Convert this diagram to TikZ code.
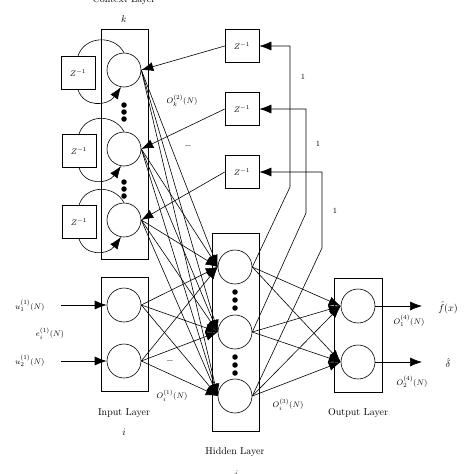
\documentclass[tikz,border=0pt]{standalone}
\usetikzlibrary{shapes.geometric, arrows.meta, positioning, calc}

\begin{document}
\begin{tikzpicture}[
    x=1pt, y=1pt,
    neuron/.style={circle, draw=black, semithick, minimum size=34pt, inner sep=0pt},
    layer/.style={rectangle, draw=black, semithick, inner sep=0pt},
    delay/.style={rectangle, draw=black, semithick, minimum width=34pt, minimum height=33pt, inner sep=0pt, font=\footnotesize},
    link/.style={-{Latex[length=12pt, width=9pt]}, semithick},
    wire/.style={-, semithick},
    lbl/.style={font=\footnotesize, inner sep=0pt},
    title/.style={inner sep=0pt},
    dot/.style={circle, fill=black, minimum size=5.5pt, inner sep=0pt}
]
\useasboundingbox (0,0) rectangle (474,-474);

% Layer Boxes
\node[layer, minimum width=47pt, minimum height=230pt] (ctx_box) at (124.5,-144) {};
\node[layer, minimum width=47pt, minimum height=114pt] (in_box) at (124.5,-334) {};
\node[layer, minimum width=47pt, minimum height=198pt] (hid_box) at (235.5,-332) {};
\node[layer, minimum width=48pt, minimum height=114pt] (out_box) at (358,-335) {};

% Neurons
\node[neuron] (ctx1) at (124,-70) {};
\node[neuron] (ctx2) at (124,-149) {};
\node[neuron] (ctx3) at (124,-220) {};
\node[neuron] (in1) at (124,-305) {};
\node[neuron] (in2) at (124,-361) {};
\node[neuron] (hid1) at (235,-267) {};
\node[neuron] (hid2) at (235,-332) {};
\node[neuron] (hid3) at (235,-396) {};
\node[neuron] (out1) at (358,-306) {};
\node[neuron] (out2) at (358,-362) {};

% Dots
\node[dot] at (124,-105) {};
\node[dot] at (124,-112) {};
\node[dot] at (124,-119) {};
\node[dot] at (124,-182) {};
\node[dot] at (124,-189) {};
\node[dot] at (124,-196) {};
\node[dot] at (235,-292) {};
\node[dot] at (235,-300) {};
\node[dot] at (235,-308) {};
\node[dot] at (235,-357) {};
\node[dot] at (235,-365) {};
\node[dot] at (235,-373) {};

% Delay Units
\node[delay] (zl1) at (78,-73) {$Z^{-1}$};
\node[delay] (zl2) at (79,-151) {$Z^{-1}$};
\node[delay] (zl3) at (79,-222) {$Z^{-1}$};
\node[delay] (zr1) at (242,-46) {$Z^{-1}$};
\node[delay] (zr2) at (242,-109) {$Z^{-1}$};
\node[delay] (zr3) at (242,-172) {$Z^{-1}$};

% Self Loops
\draw[wire] (ctx1.north) .. controls (114,-34) and (84,-36) .. (zl1.north);
\draw[link] (zl1.south) .. controls (84,-108) and (108,-106) .. (ctx1.-100);
\draw[wire] (ctx2.north) .. controls (114,-113) and (85,-114) .. (zl2.north);
\draw[link] (zl2.south) .. controls (85,-186) and (108,-184) .. (ctx2.-100);
\draw[wire] (ctx3.north) .. controls (114,-184) and (85,-185) .. (zl3.north);
\draw[link] (zl3.south) .. controls (85,-257) and (108,-255) .. (ctx3.-100);

% Delay To Context
\draw[link] (zr1.west) -- (ctx1.east);
\draw[link] (zr2.west) -- (ctx2.east);
\draw[link] (zr3.west) -- (ctx3.east);

% Context To Hidden
\draw[link] (ctx1.east) -- (hid1.west);
\draw[link] (ctx1.east) -- (hid2.west);
\draw[link] (ctx1.east) -- (hid3.west);
\draw[link] (ctx2.east) -- (hid1.west);
\draw[link] (ctx2.east) -- (hid2.west);
\draw[link] (ctx2.east) -- (hid3.west);
\draw[link] (ctx3.east) -- (hid1.west);
\draw[link] (ctx3.east) -- (hid2.west);
\draw[link] (ctx3.east) -- (hid3.west);

% Input To Hidden
\coordinate (u1) at (61,-305);
\coordinate (u2) at (61,-361);
\draw[link] (u1) -- (in1.west);
\draw[link] (u2) -- (in2.west);
\draw[link] (in1.east) -- (hid1.west);
\draw[link] (in1.east) -- (hid2.west);
\draw[link] (in1.east) -- (hid3.west);
\draw[link] (in2.east) -- (hid1.west);
\draw[link] (in2.east) -- (hid2.west);
\draw[link] (in2.east) -- (hid3.west);

% Hidden To Output
\draw[link] (hid1.east) -- (out1.west);
\draw[link] (hid1.east) -- (out2.west);
\draw[link] (hid2.east) -- (out1.west);
\draw[link] (hid2.east) -- (out2.west);
\draw[link] (hid3.east) -- (out1.west);
\draw[link] (hid3.east) -- (out2.west);
\coordinate (y1) at (422,-306);
\coordinate (y2) at (422,-362);
\draw[link] (out1.east) -- (y1);
\draw[link] (out2.east) -- (y2);

% Feedback Paths
\coordinate (fb1) at (290,-187);
\coordinate (fb2) at (306,-213);
\coordinate (fb3) at (322,-248);
\draw[link] (hid1.east) -- (fb1) |- (zr1.east);
\draw[link] (hid2.east) -- (fb2) |- (zr2.east);
\draw[link] (hid3.east) -- (fb3) |- (zr3.east);
\node[lbl] (w1) at (303,-77) {1};
\node[lbl] (w2) at (318,-144) {1};
\node[lbl] (w3) at (335,-211) {1};

% Labels
\node[title, anchor=base] (ctx_title) at (124,-2) {Context Layer};
\node[title] (ctx_k) at (124,-19) {$k$};
\node[lbl] (o2) at (182,-101) {$O_k^{(2)}(N)$};
\node[title] (bar1) at (188,-147) {\bfseries --};
\node[lbl] (lu1) at (30,-306) {$u_1^{(1)}(N)$};
\node[lbl] (le1) at (50,-334) {$e_i^{(1)}(N)$};
\node[lbl] (lu2) at (30,-361) {$u_2^{(1)}(N)$};
\node[title] (bar2) at (170,-362) {\bfseries --};
\node[lbl] (o1) at (172,-396) {$O_i^{(1)}(N)$};
\node[title] (in_title) at (124,-413) {Input Layer};
\node[title] (in_i) at (124,-432) {$i$};
\node[lbl] (o3) at (288,-405) {$O_i^{(3)}(N)$};
\node[title] (hid_title) at (235,-452) {Hidden Layer};
\node[title, anchor=base] (hid_j) at (236,-477) {$j$};
\node[lbl] (o41) at (409,-321) {$O_1^{(4)}(N)$};
\node[lbl] (o42) at (412,-382) {$O_2^{(4)}(N)$};
\node[title] (out_title) at (358,-413) {Output Layer};
\node[title] (fx) at (448,-308) {$\hat{f}(x)$};
\node[title] (dhat) at (448,-363) {$\hat{\delta}$};

\end{tikzpicture}
\end{document}
